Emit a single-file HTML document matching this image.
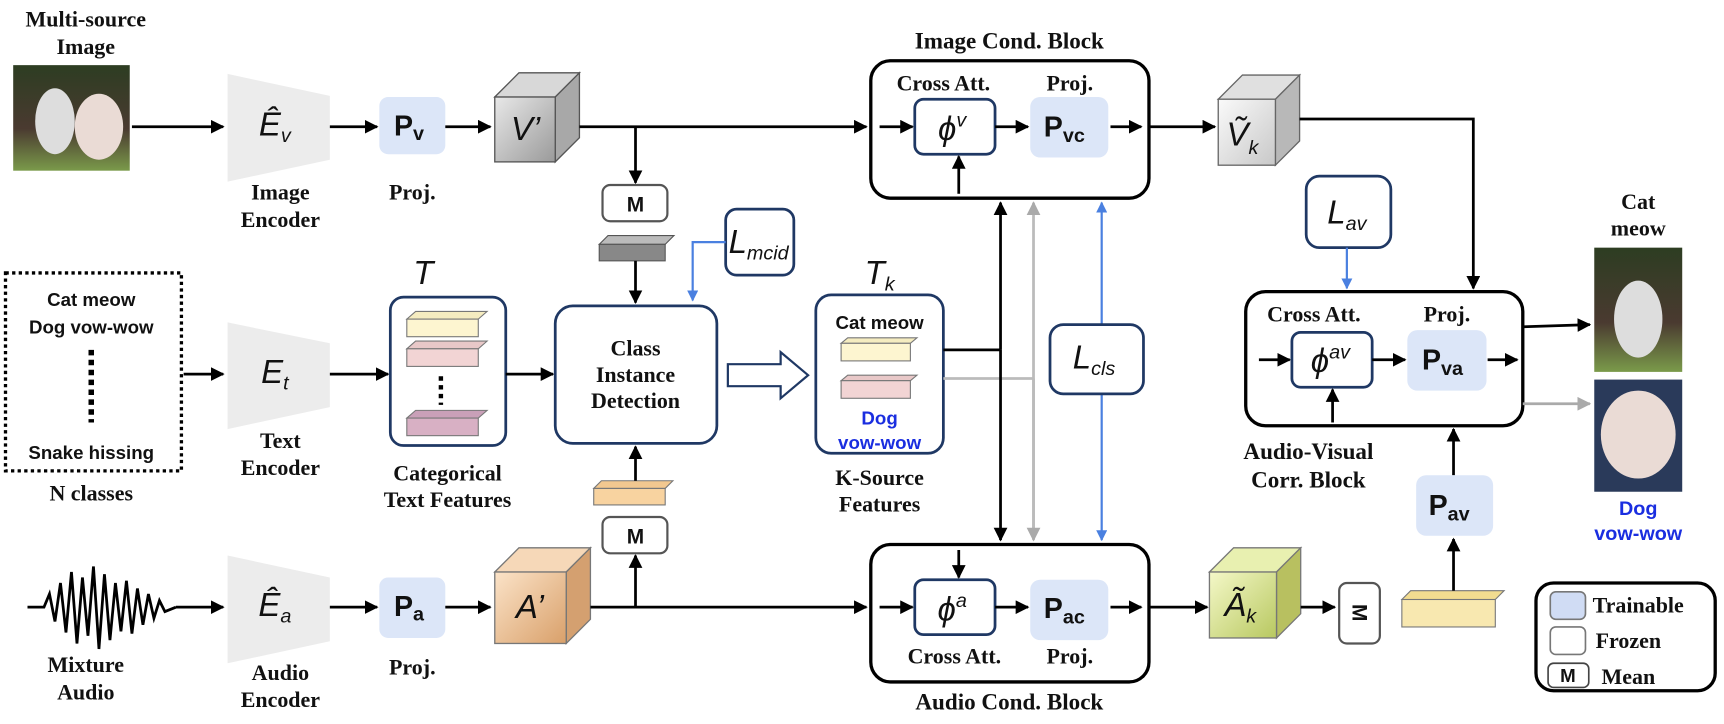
<!DOCTYPE html>
<html><head><meta charset="utf-8"><style>
html,body{margin:0;padding:0;background:#fff;}
svg{display:block}
.t{font-family:"Liberation Serif",serif;font-weight:bold;font-size:20px;fill:#111;text-anchor:middle}
.s{font-family:"Liberation Sans",sans-serif;font-weight:bold;font-size:17px;fill:#111;text-anchor:middle}
.m{font-family:"Liberation Sans",sans-serif;font-style:italic;font-size:30px;fill:#111;text-anchor:middle}
.p{font-family:"Liberation Sans",sans-serif;font-weight:bold;font-size:26px;fill:#111;text-anchor:middle}
.sub{font-size:18px}
</style></head><body>
<svg width="1724" height="724" viewBox="0 0 1568 658" xmlns="http://www.w3.org/2000/svg">
<defs>
<marker id="a" viewBox="0 0 10 10" refX="9" refY="5" markerWidth="5" markerHeight="5" orient="auto"><path d="M0,0L10,5L0,10z" fill="#000"/></marker>
<marker id="g" viewBox="0 0 10 10" refX="9" refY="5" markerWidth="5" markerHeight="5" orient="auto"><path d="M0,0L10,5L0,10z" fill="#aaa"/></marker>
<marker id="b" viewBox="0 0 10 10" refX="9" refY="5" markerWidth="5" markerHeight="5" orient="auto"><path d="M0,0L10,5L0,10z" fill="#4a80e0"/></marker>
<linearGradient id="gr" x1="0" y1="0" x2="1" y2="1"><stop offset="0" stop-color="#e8e8e8"/><stop offset="1" stop-color="#9a9a9a"/></linearGradient>
<linearGradient id="gl" x1="0" y1="0" x2="1" y2="1"><stop offset="0" stop-color="#fafafa"/><stop offset="1" stop-color="#c8c8c8"/></linearGradient>
<linearGradient id="or" x1="0" y1="0" x2="1" y2="1"><stop offset="0" stop-color="#fbe3c8"/><stop offset="1" stop-color="#d9a06a"/></linearGradient>
<linearGradient id="yg" x1="0" y1="0" x2="1" y2="1"><stop offset="0" stop-color="#f4f8c8"/><stop offset="1" stop-color="#b8c860"/></linearGradient>
<linearGradient id="ph" x1="0" y1="0" x2="0" y2="1"><stop offset="0" stop-color="#2d3d22"/><stop offset="0.6" stop-color="#4a3a30"/><stop offset="1" stop-color="#7a9a4a"/></linearGradient>
</defs>
<g stroke-width="2.5" fill="none" stroke="#000">
<text class="t" x="78" y="24" stroke="none">Multi-source</text>
<text class="t" x="78" y="49" stroke="none">Image</text>
<rect x="12" y="59" width="106" height="96" fill="url(#ph)" stroke="none"/>
<ellipse cx="50" cy="110" rx="18" ry="30" fill="#ddd" stroke="none"/>
<ellipse cx="90" cy="115" rx="22" ry="30" fill="#eadbd5" stroke="none"/>
<line x1="120" y1="115" x2="203" y2="115" marker-end="url(#a)"/>
<path d="M207,67L300,87L300,145L207,165Z" fill="#ececec" stroke="none"/>
<text class="m" x="250" y="123" stroke="none">Ê<tspan class="sub" dy="6">v</tspan></text>
<text class="t" x="255" y="181" stroke="none">Image</text>
<text class="t" x="255" y="206" stroke="none">Encoder</text>
<line x1="300" y1="115" x2="343" y2="115" marker-end="url(#a)"/>
<rect x="345" y="88" width="60" height="52" rx="8" fill="#dce6f8" stroke="none"/>
<text class="p" x="372" y="123" stroke="none">P<tspan class="sub" dy="4">v</tspan></text>
<text class="t" x="375" y="181" stroke="none">Proj.</text>
<line x1="405" y1="115" x2="446" y2="115" marker-end="url(#a)"/>
<path d="M450,88L472,66L527,66L505,88Z" fill="#d8d8d8" stroke="#555" stroke-width="1.2"/>
<path d="M505,88L527,66L527,125L505,147Z" fill="#a8a8a8" stroke="#555" stroke-width="1.2"/>
<rect x="450" y="88" width="55" height="59" fill="url(#gr)" stroke="#555" stroke-width="1.2"/>
<text class="m" x="478" y="127" stroke="none">V’</text>
<line x1="527" y1="115" x2="788" y2="115" marker-end="url(#a)"/>
<line x1="578" y1="115" x2="578" y2="166" marker-end="url(#a)"/>
<rect x="548" y="168" width="59" height="33" rx="7" fill="#fff" stroke="#555" stroke-width="2"/>
<text class="s" x="578" y="192" stroke="none" style="font-size:19px">M</text>
<path d="M545,222L553,214L613,214L605,222Z" fill="#bbb" stroke="#555" stroke-width="1"/>
<rect x="545" y="222" width="60" height="15" fill="#888" stroke="#555" stroke-width="1"/>
<line x1="578" y1="237" x2="578" y2="275" marker-end="url(#a)"/>
<rect x="660" y="190" width="62" height="60" rx="10" fill="#fff" stroke="#1f3864"/>
<text class="m" x="690" y="230" stroke="none">L<tspan class="sub" dy="6">mcid</tspan></text>
<path d="M660,220L630,220L630,273" stroke="#4a80e0" stroke-width="2" marker-end="url(#b)"/>

<rect x="5" y="248" width="160" height="180" stroke-dasharray="3,3" stroke-width="3"/>
<text class="s" x="83" y="278" stroke="none">Cat meow</text>
<text class="s" x="83" y="303" stroke="none">Dog vow-wow</text>
<line x1="83" y1="318" x2="83" y2="384" stroke-dasharray="5,4" stroke-width="5"/>
<text class="s" x="83" y="417" stroke="none">Snake hissing</text>
<text class="t" x="83" y="455" stroke="none">N classes</text>
<line x1="167" y1="340" x2="203" y2="340" marker-end="url(#a)"/>
<path d="M207,293L300,312L300,370L207,390Z" fill="#ececec" stroke="none"/>
<text class="m" x="250" y="348" stroke="none">E<tspan class="sub" dy="6">t</tspan></text>
<text class="t" x="255" y="407" stroke="none">Text</text>
<text class="t" x="255" y="432" stroke="none">Encoder</text>
<line x1="300" y1="340" x2="353" y2="340" marker-end="url(#a)"/>
<text class="m" x="385" y="258" stroke="none">T</text>
<rect x="355" y="270" width="105" height="135" rx="12" fill="#fff" stroke="#1f3864"/>
<path d="M370,290L378,283L443,283L435,290Z" fill="#f5ecc0" stroke="#777" stroke-width="1"/>
<rect x="370" y="290" width="65" height="16" fill="#fdf5d0" stroke="#777" stroke-width="1"/>
<path d="M370,317L378,310L443,310L435,317Z" fill="#e8c8c8" stroke="#777" stroke-width="1"/>
<rect x="370" y="317" width="65" height="16" fill="#f2d4d4" stroke="#777" stroke-width="1"/>
<line x1="401" y1="342" x2="401" y2="368" stroke-dasharray="4,4" stroke-width="4"/>
<path d="M370,380L378,373L443,373L435,380Z" fill="#c9a0b8" stroke="#777" stroke-width="1"/>
<rect x="370" y="380" width="65" height="16" fill="#d8b0c4" stroke="#777" stroke-width="1"/>
<text class="t" x="407" y="437" stroke="none">Categorical</text>
<text class="t" x="407" y="461" stroke="none">Text Features</text>
<line x1="460" y1="340" x2="503" y2="340" marker-end="url(#a)"/>
<rect x="505" y="278" width="147" height="125" rx="16" fill="#fff" stroke="#1f3864"/>
<text class="t" x="578" y="323" stroke="none">Class</text>
<text class="t" x="578" y="347" stroke="none">Instance</text>
<text class="t" x="578" y="371" stroke="none">Detection</text>
<path d="M662,331L710,331L710,320L735,341L710,362L710,351L662,351Z" fill="#fff" stroke="#1f3864" stroke-width="2"/>
<text class="m" x="800" y="258" stroke="none">T<tspan class="sub" dy="6">k</tspan></text>
<rect x="742" y="268" width="116" height="144" rx="14" fill="#fff" stroke="#1f3864"/>
<text class="s" x="800" y="299" stroke="none">Cat meow</text>
<path d="M765,312L771,307L834,307L828,312Z" fill="#f5ecc0" stroke="#777" stroke-width="1"/>
<rect x="765" y="312" width="63" height="16" fill="#fdf5d0" stroke="#777" stroke-width="1"/>
<path d="M765,346L771,341L834,341L828,346Z" fill="#e8c8c8" stroke="#777" stroke-width="1"/>
<rect x="765" y="346" width="63" height="16" fill="#f2d4d4" stroke="#777" stroke-width="1"/>
<text class="s" x="800" y="386" stroke="none" style="fill:#1a2ee0">Dog</text>
<text class="s" x="800" y="408" stroke="none" style="fill:#1a2ee0">vow-wow</text>
<text class="t" x="800" y="441" stroke="none">K-Source</text>
<text class="t" x="800" y="465" stroke="none">Features</text>
<line x1="858" y1="318" x2="910" y2="318"/>
<line x1="858" y1="344" x2="940" y2="344" stroke="#bbb"/>
<line x1="910" y1="318" x2="910" y2="184" marker-end="url(#a)"/>
<line x1="910" y1="318" x2="910" y2="491" marker-end="url(#a)"/>
<line x1="940" y1="490" x2="940" y2="184" stroke="#bbb" marker-end="url(#g)"/>
<line x1="940" y1="344" x2="940" y2="491" stroke="#bbb" marker-end="url(#g)"/>
<line x1="1002" y1="295" x2="1002" y2="184" stroke="#4a80e0" stroke-width="2" marker-end="url(#b)"/>
<line x1="1002" y1="358" x2="1002" y2="491" stroke="#4a80e0" stroke-width="2" marker-end="url(#b)"/>
<rect x="955" y="295" width="85" height="63" rx="12" fill="#fff" stroke="#1f3864"/>
<text class="m" x="995" y="335" stroke="none">L<tspan class="sub" dy="6">cls</tspan></text>

<text class="t" x="918" y="44" stroke="none" style="font-size:21px">Image Cond. Block</text>
<rect x="792" y="55" width="253" height="125" rx="18" fill="none" stroke-width="3"/>
<text class="t" x="858" y="82" stroke="none">Cross Att.</text>
<text class="t" x="973" y="82" stroke="none">Proj.</text>
<line x1="800" y1="115" x2="830" y2="115" marker-end="url(#a)"/>
<rect x="832" y="90" width="73" height="50" rx="8" fill="#fff" stroke="#1f3864"/>
<text class="m" x="866" y="127" stroke="none">ϕ<tspan class="sub" dy="-12">v</tspan></text>
<line x1="905" y1="115" x2="935" y2="115" marker-end="url(#a)"/>
<rect x="937" y="88" width="71" height="55" rx="9" fill="#dce6f8" stroke="none"/>
<text class="p" x="968" y="124" stroke="none">P<tspan class="sub" dy="5">vc</tspan></text>
<line x1="1010" y1="115" x2="1038" y2="115" marker-end="url(#a)"/>
<line x1="872" y1="176" x2="872" y2="142" marker-end="url(#a)"/>
<line x1="1045" y1="115" x2="1105" y2="115" marker-end="url(#a)"/>
<path d="M1108,90L1130,68L1182,68L1160,90Z" fill="#e0e0e0" stroke="#666" stroke-width="1.2"/>
<path d="M1160,90L1182,68L1182,128L1160,150Z" fill="#b8b8b8" stroke="#666" stroke-width="1.2"/>
<rect x="1108" y="90" width="52" height="60" fill="url(#gl)" stroke="#666" stroke-width="1.2"/>
<text class="m" x="1130" y="132" stroke="none">Ṽ<tspan class="sub" dy="8">k</tspan></text>
<path d="M1182,108L1340,108L1340,262" marker-end="url(#a)"/>
<rect x="1188" y="160" width="77" height="65" rx="12" fill="#fff" stroke="#1f3864"/>
<text class="m" x="1225" y="203" stroke="none">L<tspan class="sub" dy="6">av</tspan></text>
<line x1="1225" y1="225" x2="1225" y2="262" stroke="#4a80e0" stroke-width="2" marker-end="url(#b)"/>

<rect x="1133" y="265" width="252" height="122" rx="18" fill="none" stroke-width="3"/>
<text class="t" x="1195" y="292" stroke="none">Cross Att.</text>
<text class="t" x="1316" y="292" stroke="none">Proj.</text>
<line x1="1145" y1="327" x2="1173" y2="327" marker-end="url(#a)"/>
<rect x="1175" y="302" width="73" height="50" rx="8" fill="#fff" stroke="#1f3864"/>
<text class="m" x="1210" y="338" stroke="none">ϕ<tspan class="sub" dy="-12">av</tspan></text>
<line x1="1248" y1="327" x2="1278" y2="327" marker-end="url(#a)"/>
<rect x="1280" y="300" width="72" height="55" rx="9" fill="#dce6f8" stroke="none"/>
<text class="p" x="1312" y="336" stroke="none">P<tspan class="sub" dy="5">va</tspan></text>
<line x1="1353" y1="327" x2="1380" y2="327" marker-end="url(#a)"/>
<line x1="1212" y1="384" x2="1212" y2="354" marker-end="url(#a)"/>
<text class="t" x="1190" y="417" stroke="none" style="font-size:21px">Audio-Visual</text>
<text class="t" x="1190" y="443" stroke="none" style="font-size:21px">Corr. Block</text>
<line x1="1322" y1="432" x2="1322" y2="390" marker-end="url(#a)"/>
<rect x="1288" y="432" width="70" height="55" rx="9" fill="#dce6f8" stroke="none"/>
<text class="p" x="1318" y="468" stroke="none">P<tspan class="sub" dy="5">av</tspan></text>
<line x1="1385" y1="297" x2="1446" y2="295" marker-end="url(#a)"/>
<line x1="1385" y1="367" x2="1446" y2="367" stroke="#aaa" marker-end="url(#g)"/>
<text class="t" x="1490" y="190" stroke="none">Cat</text>
<text class="t" x="1490" y="214" stroke="none">meow</text>
<rect x="1450" y="225" width="80" height="113" fill="url(#ph)" stroke="none"/>
<ellipse cx="1490" cy="290" rx="22" ry="35" fill="#ddd" stroke="none"/>
<rect x="1450" y="345" width="80" height="102" fill="#2a3a5a" stroke="none"/>
<ellipse cx="1490" cy="395" rx="34" ry="40" fill="#eadbd5" stroke="none"/>
<text class="s" x="1490" y="468" stroke="none" style="fill:#1a2ee0;font-size:18px">Dog</text>
<text class="s" x="1490" y="491" stroke="none" style="fill:#1a2ee0;font-size:18px">vow-wow</text>

<path d="M25,552 L40,552 L45,540 L50,565 L55,530 L60,575 L65,520 L70,585 L75,525 L80,578 L85,515 L90,590 L95,522 L100,582 L105,530 L110,574 L115,528 L120,576 L125,535 L130,568 L135,540 L140,562 L145,546 L150,556 L160,552" stroke-width="2.5"/>
<text class="t" x="78" y="611" stroke="none">Mixture</text>
<text class="t" x="78" y="636" stroke="none">Audio</text>
<line x1="160" y1="552" x2="203" y2="552" marker-end="url(#a)"/>
<path d="M207,505L300,525L300,583L207,603Z" fill="#ececec" stroke="none"/>
<text class="m" x="250" y="560" stroke="none">Ê<tspan class="sub" dy="6">a</tspan></text>
<text class="t" x="255" y="618" stroke="none">Audio</text>
<text class="t" x="255" y="643" stroke="none">Encoder</text>
<line x1="300" y1="552" x2="343" y2="552" marker-end="url(#a)"/>
<rect x="345" y="525" width="60" height="55" rx="8" fill="#dce6f8" stroke="none"/>
<text class="p" x="372" y="560" stroke="none">P<tspan class="sub" dy="4">a</tspan></text>
<text class="t" x="375" y="613" stroke="none">Proj.</text>
<line x1="405" y1="552" x2="446" y2="552" marker-end="url(#a)"/>
<path d="M450,520L472,498L537,498L515,520Z" fill="#f6d8b8" stroke="#777" stroke-width="1.2"/>
<path d="M515,520L537,498L537,563L515,585Z" fill="#d4a070" stroke="#777" stroke-width="1.2"/>
<rect x="450" y="520" width="65" height="65" fill="url(#or)" stroke="#777" stroke-width="1.2"/>
<text class="m" x="482" y="562" stroke="none">A’</text>
<line x1="537" y1="552" x2="788" y2="552" marker-end="url(#a)"/>
<line x1="578" y1="552" x2="578" y2="505" marker-end="url(#a)"/>
<rect x="548" y="470" width="59" height="33" rx="7" fill="#fff" stroke="#555" stroke-width="2"/>
<text class="s" x="578" y="494" stroke="none" style="font-size:19px">M</text>
<path d="M540,444L547,437L612,437L605,444Z" fill="#f2c890" stroke="#777" stroke-width="1"/>
<rect x="540" y="444" width="65" height="15" fill="#f8d3a0" stroke="#777" stroke-width="1"/>
<line x1="578" y1="437" x2="578" y2="406" marker-end="url(#a)"/>

<rect x="792" y="495" width="253" height="125" rx="18" fill="none" stroke-width="3"/>
<text class="t" x="918" y="645" stroke="none" style="font-size:21px">Audio Cond. Block</text>
<line x1="800" y1="552" x2="830" y2="552" marker-end="url(#a)"/>
<rect x="832" y="527" width="73" height="50" rx="8" fill="#fff" stroke="#1f3864"/>
<text class="m" x="866" y="564" stroke="none">ϕ<tspan class="sub" dy="-12">a</tspan></text>
<line x1="905" y1="552" x2="935" y2="552" marker-end="url(#a)"/>
<rect x="937" y="527" width="71" height="55" rx="9" fill="#dce6f8" stroke="none"/>
<text class="p" x="968" y="562" stroke="none">P<tspan class="sub" dy="5">ac</tspan></text>
<line x1="1010" y1="552" x2="1038" y2="552" marker-end="url(#a)"/>
<line x1="872" y1="500" x2="872" y2="525" marker-end="url(#a)"/>
<text class="t" x="868" y="603" stroke="none">Cross Att.</text>
<text class="t" x="973" y="603" stroke="none">Proj.</text>
<line x1="1045" y1="552" x2="1098" y2="552" marker-end="url(#a)"/>
<path d="M1100,520L1122,498L1183,498L1161,520Z" fill="#e8f0b0" stroke="#777" stroke-width="1.2"/>
<path d="M1161,520L1183,498L1183,558L1161,580Z" fill="#b8c060" stroke="#777" stroke-width="1.2"/>
<rect x="1100" y="520" width="61" height="60" fill="url(#yg)" stroke="#777" stroke-width="1.2"/>
<text class="m" x="1128" y="560" stroke="none">Ã<tspan class="sub" dy="6">k</tspan></text>
<line x1="1183" y1="552" x2="1214" y2="552" marker-end="url(#a)"/>
<rect x="1218" y="530" width="37" height="55" rx="7" fill="#fff" stroke="#555" stroke-width="2"/>
<text class="s" x="0" y="0" stroke="none" style="font-size:19px" transform="translate(1230,557) rotate(90)">M</text>
<path d="M1275,545L1283,537L1368,537L1360,545Z" fill="#f2dc90" stroke="#777" stroke-width="1"/>
<rect x="1275" y="545" width="85" height="25" fill="#f8e8b0" stroke="#777" stroke-width="1"/>
<line x1="1322" y1="537" x2="1322" y2="490" marker-end="url(#a)"/>

<rect x="1397" y="530" width="163" height="98" rx="16" fill="#fff" stroke-width="3"/>
<rect x="1410" y="538" width="32" height="25" rx="5" fill="#d0dcf4" stroke="#777" stroke-width="1.5"/>
<text class="t" x="1490" y="557" stroke="none" style="font-size:20px">Trainable</text>
<rect x="1410" y="570" width="32" height="25" rx="5" fill="#fff" stroke="#777" stroke-width="1.5"/>
<text class="t" x="1481" y="589" stroke="none" style="font-size:20px">Frozen</text>
<rect x="1408" y="603" width="37" height="22" rx="5" fill="#fff" stroke="#444" stroke-width="1.5"/>
<text class="s" x="1426" y="620" stroke="none">M</text>
<text class="t" x="1481" y="622" stroke="none" style="font-size:20px">Mean</text>
</g>
</svg>
</body></html>
